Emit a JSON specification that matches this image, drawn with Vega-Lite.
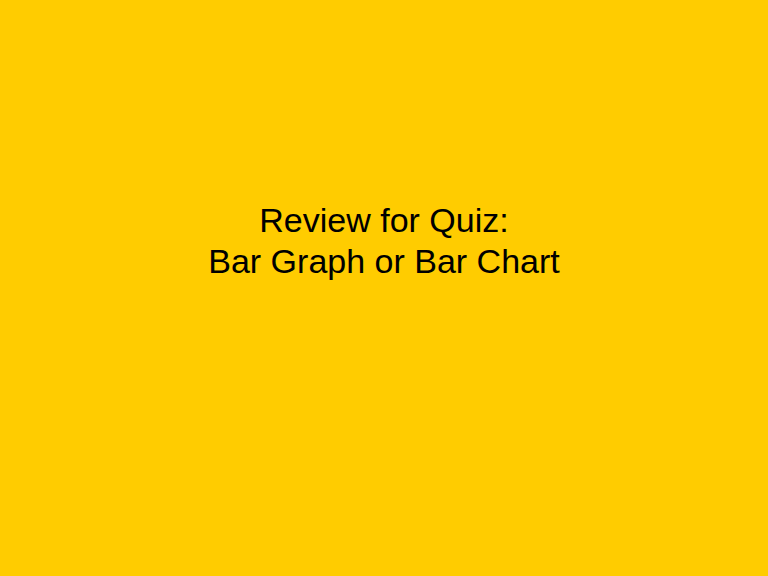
{
  "$schema": "https://vega.github.io/schema/vega-lite/v6.json",
  "description": "Review for Quiz: Bar Graph or Bar Chart - title slide",
  "width": 768,
  "height": 576,
  "autosize": {"type": "fit", "contains": "padding"},
  "padding": 0,
  "background": "#FFCC00",
  "config": {"view": {"stroke": null}},
  "data": {
    "values": [
      {"col": 0, "row": 1, "label": "Review for Quiz:"},
      {"col": 0, "row": 2, "label": "Bar Graph or Bar Chart"}
    ]
  },
  "mark": {
    "type": "text",
    "font": "Liberation Sans",
    "fontSize": 34,
    "color": "#000000",
    "align": "center",
    "baseline": "alphabetic"
  },
  "encoding": {
    "x": {
      "field": "col",
      "type": "quantitative",
      "axis": null,
      "scale": {"domain": [-1, 1], "nice": false, "zero": false}
    },
    "y": {
      "field": "row",
      "type": "quantitative",
      "axis": null,
      "scale": {"domain": [-4.66, 9.39], "nice": false, "zero": false, "reverse": true}
    },
    "text": {"field": "label"}
  }
}
